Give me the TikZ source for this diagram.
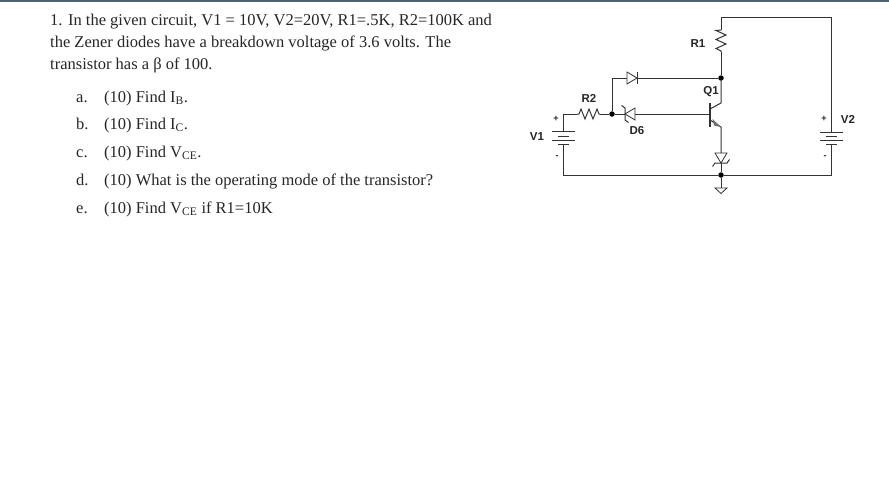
\documentclass[tikz,border=0pt]{standalone}
\usepackage{fontspec}
\setmainfont{Liberation Serif}
\newfontfamily\partfont{Liberation Sans}
\definecolor{wirecol}{HTML}{333333}
\definecolor{rulecol}{HTML}{4A6378}
\tikzset{
    wire/.style={draw=wirecol,line width=1pt},
    line/.style={anchor=base west,inner sep=0pt,font=\fontsize{16.5}{18}\selectfont,text=black!85},
    part/.style={inner sep=0pt,font=\partfont\bfseries\fontsize{11.5}{12}\selectfont,text=black!85},
    sign/.style={inner sep=0pt,font=\partfont\bfseries\fontsize{9}{9}\selectfont,text=black!85},
    junction/.style={circle,fill=black,inner sep=0pt,minimum size=5.5pt},
    diode/.pic={
        \draw[wirecol,line width=0.8pt] (-5,-6) -- (-5,6) -- (5,0) -- cycle;
        \draw[wirecol,line width=1pt] (5,-6) -- (5,6);
    },
    zener/.pic={
        \draw[wirecol,line width=0.8pt] (-5,-6) -- (-5,6) -- (5,0) -- cycle;
        \draw[wirecol,line width=1pt] (1.5,-8.5) -- (5,-6) -- (5,6) -- (8.5,8.5);
    },
}
\begin{document}
\begin{tikzpicture}[x=1pt,y=-1pt]
    \useasboundingbox (0,0) rectangle (889,496);
    \fill[white] (0,0) rectangle (889,496);
    \fill[rulecol] (0,0) rectangle (889,1.5);
    % question text
    \node[line] (l1) at (50,25) {1. In the given circuit, V1 = 10V, V2=20V, R1=.5K, R2=100K and};
    \node[line] (l2) at (50,47) {the Zener diodes have a breakdown voltage of 3.6 volts. The};
    \node[line] (l3) at (50,69) {transistor has a β of 100.};
    \node[line] (a) at (76,102) {a.};
    \node[line] (qa) at (104,102) {(10) Find I\textsubscript{B}.};
    \node[line] (b) at (76,129) {b.};
    \node[line] (qb) at (104,129) {(10) Find I\textsubscript{C}.};
    \node[line] (c) at (76,157) {c.};
    \node[line] (qc) at (104,157) {(10) Find V\textsubscript{CE}.};
    \node[line] (d) at (76,185) {d.};
    \node[line] (qd) at (104,185) {(10) What is the operating mode of the transistor?};
    \node[line] (e) at (76,213) {e.};
    \node[line] (qe) at (104,213) {(10) Find V\textsubscript{CE} if R1=10K};
    % junctions and corners
    \node[junction] (jin) at (612,114) {};
    \node[junction] (jc) at (721,78) {};
    \node[junction] (jgnd) at (721,175) {};
    \coordinate (v1top) at (563,114);
    \coordinate (v1bot) at (563,175);
    \coordinate (v1p) at (563,131);
    \coordinate (v1n) at (563,144);
    \coordinate (v2top) at (831,17);
    \coordinate (v2bot) at (831,175);
    \coordinate (v2p) at (831,132);
    \coordinate (v2n) at (831,144);
    \coordinate (r1top) at (721,17);
    \coordinate (r1a) at (721,30);
    \coordinate (r1b) at (721,52);
    \coordinate (r2a) at (577,114);
    \coordinate (r2b) at (600,114);
    \coordinate (dtl) at (612,78);
    \coordinate (dta) at (627,78);
    \coordinate (dtb) at (637,78);
    \coordinate (dba) at (635,114);
    \coordinate (dbb) at (625,114);
    \coordinate (base) at (710,114);
    \coordinate (coll) at (721,103);
    \coordinate (emit) at (721,127);
    \coordinate (dza) at (721,153);
    \coordinate (dzb) at (721,163);
    \coordinate (gnd) at (721,188);
    % wiring
    \draw[wire] (v1p) -- (v1top) -- (r2a);
    \draw[wire] (r2a) -- ++(2,0) -- ++(2,-5) -- ++(4,10) -- ++(4,-10) -- ++(4,10) -- ++(4,-10) -- ++(2,5) -- (r2b);
    \draw[wire] (r2b) -- (jin) -- (dbb);
    \draw[wire] (jin) -- (dtl) -- (dta);
    \draw[wire] (dtb) -- (jc);
    \draw[wire] (dba) -- (base);
    \draw[wire] (jc) -- (r1b);
    \draw[wire] (r1b) -- ++(0,-1) -- ++(-5,-2.5) -- ++(10,-4.5) -- ++(-10,-4.5) -- ++(10,-4.5) -- ++(-10,-4.5) -- (r1a);
    \draw[wire] (r1a) -- (r1top) -- (v2top) -- (v2p);
    \draw[wire] (jc) -- (coll) -- (710,109);
    \draw[wire] (710,120) -- (emit) -- (dza);
    \draw[wire] (dzb) -- (jgnd) -- (gnd);
    \draw[wire] (v1n) -- (v1bot) -- (jgnd) -- (v2bot) -- (v2n);
    % transistor
    \draw[wirecol,line width=1.3pt] (710,103) -- (710,127);
    \fill[wirecol!70] (721,127) -- (712.5,119) -- (714,125.5) -- cycle;
    % diodes
    \pic at (632,78) {diode};
    \pic[rotate=180] at (630,114) {zener};
    \pic[rotate=-90] at (721,158) {zener};
    % batteries
    \draw[wire] (552,131) -- (575,131);
    \draw[wire] (558,136) -- (569,136);
    \draw[wire] (552,140) -- (575,140);
    \draw[wire] (558,144) -- (569,144);
    \draw[wire] (820,132) -- (843,132);
    \draw[wire] (826,136) -- (837,136);
    \draw[wire] (820,140) -- (843,140);
    \draw[wire] (826,144) -- (837,144);
    % ground
    \draw[wire,line width=0.8pt] (715,188) -- (727,188) -- (721,193.5) -- cycle;
    % labels
    \node[part] (v1) at (537,137) {V1};
    \node[part] (v2) at (848,119) {V2};
    \node[part] (r1) at (698,44) {R1};
    \node[part] (r2) at (589,98) {R2};
    \node[part] (q1) at (711,92) {Q1};
    \node[part] (d6) at (637,131) {D6};
    \node[sign] (v1plus) at (556,119) {+};
    \node[sign] (v1minus) at (557,157) {-};
    \node[sign] (v2plus) at (824,119) {+};
    \node[sign] (v2minus) at (825,157) {-};
\end{tikzpicture}
\end{document}
